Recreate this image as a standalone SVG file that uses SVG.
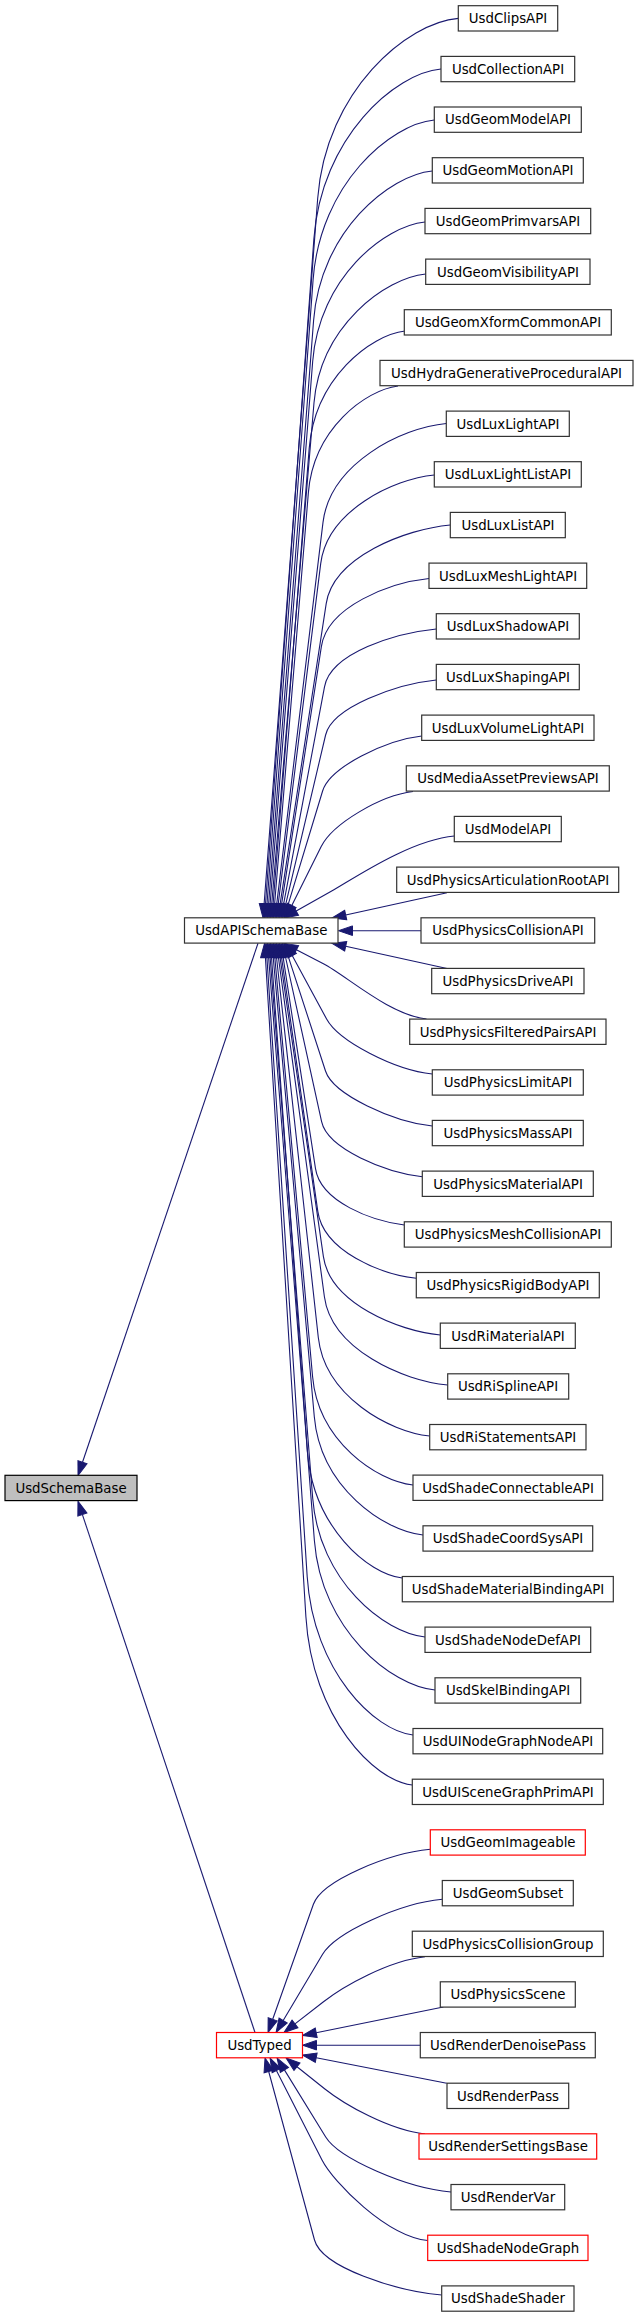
<svg xmlns="http://www.w3.org/2000/svg" width="637" height="2317" viewBox="0 0 637 2317">
<style>
.n rect{fill:#fff;stroke:#333;stroke-width:1.2}
.n.r rect{stroke:#f00}
.n.g rect{fill:#bfbfbf;stroke:#000}
text{font-family:"DejaVu Sans","Noto Sans",sans-serif;font-size:13.33px;text-anchor:middle;fill:#000}
.e path{fill:none;stroke:#191970;stroke-width:1.1;marker-end:url(#ah)}
</style>
<defs>
<marker id="ah" markerUnits="userSpaceOnUse" markerWidth="16" markerHeight="12" refX="0" refY="0" orient="auto" overflow="visible">
<path d="M0,-4.8 L14,0 L0,4.8 Z" fill="#191970" stroke="#191970" stroke-width="1"/>
</marker>
</defs>
<rect x="0" y="0" width="637" height="2317" fill="#fff"/>
<g id="edges" class="e">
<path d="M458.3,18.4 C407.5,22.4 325.9,90.6 317.7,198.3 L264.1,904"/>
<path d="M441,69 C395.1,73 321.3,137.2 313.9,238.8 L265.5,904"/>
<path d="M434.3,120 C390.5,124 320.2,184.1 313.1,279.6 L267,904"/>
<path d="M432.3,171 C389.5,175 320.5,231.1 313.6,320.4 L268.6,904"/>
<path d="M425,222 C384.4,226 319.2,278 312.7,361.2 L270.1,904"/>
<path d="M425.7,274 C385.3,278 320.5,325.8 314,402.8 L271.7,904"/>
<path d="M405,331 C370.4,335 314.8,378.2 309.2,448.4 L273.1,904"/>
<path d="M398,386 C365.6,390 313.6,428.8 308.4,492.4 L274.6,904"/>
<path d="M446.3,423.5 C401.8,427.5 330.1,463.5 323,522.4 L276.7,904.1"/>
<path d="M434.3,475 C393.3,479 327.3,510.8 320.7,563.6 L278.2,904.1"/>
<path d="M450.3,525 C405.5,529 333.4,556.9 326.2,603.6 L280.1,904.2"/>
<path d="M429,578.5 C390.1,582.5 327.6,606.2 321.4,646.4 L281.6,904.2"/>
<path d="M436.3,629 C395.9,633 330.9,652.7 324.5,686.8 L283.6,904.2"/>
<path d="M436.3,680 C396.3,684 332.2,707.2 325.6,735 L285.7,904.4"/>
<path d="M421.7,736 C385.9,740 329.9,767.1 322.6,791 L288.1,904.6"/>
<path d="M413,791.5 C379.8,795.5 332.4,824.1 321.2,846.5 L291.8,905.5"/>
<path d="M454.3,836 C410,840 353.5,878.7 331.7,891 L296.2,911.1"/>
<path d="M447,892.7 L345.7,915"/>
<path d="M421,930.7 L352.5,930.7"/>
<path d="M447,968.5 L345.7,946.3"/>
<path d="M426.5,1019 C389.5,1015 346.1,975.5 323.9,964 L296.4,949.8"/>
<path d="M432.3,1074 C394.1,1070 338.5,1041 326.6,1019 L292.2,955.6"/>
<path d="M432.3,1126 C393.7,1122 333.2,1094.8 325.5,1071 L288.3,956.6"/>
<path d="M422.3,1176.7 C386,1172.7 327.6,1149.1 321.6,1121.7 L285.5,957"/>
<path d="M404.3,1225 C372.2,1221 320.6,1202.1 315.5,1168.7 L283.1,957.1"/>
<path d="M416.3,1278.3 C380.7,1274.3 323.5,1251.1 317.8,1211.3 L281.5,957.2"/>
<path d="M440.3,1335 C398.1,1331 330.1,1303.2 323.4,1256.7 L280,957.2"/>
<path d="M447.7,1385 C403.2,1381 331.5,1349.2 324.4,1296.7 L278.4,957.2"/>
<path d="M429.7,1436 C389.5,1432 324.8,1396.2 318.3,1337.5 L276.5,957.2"/>
<path d="M413,1485 C376.7,1481 318.4,1441.4 312.6,1376.7 L274.8,957.2"/>
<path d="M423,1535 C383.7,1531 320.6,1487.4 314.3,1416.7 L273.2,957.2"/>
<path d="M402.3,1578 C368,1574 312.9,1527.1 307.4,1451.1 L271.5,957.3"/>
<path d="M425,1637 C384.4,1633 319.2,1581.2 312.7,1498.3 L270.1,957.3"/>
<path d="M435,1690 C391.4,1686 321.4,1630 314.4,1540.7 L268.6,957.3"/>
<path d="M413,1735 C374.8,1731 313.4,1671.5 307.2,1576.7 L266.9,957.3"/>
<path d="M412.3,1785 C373.9,1781 312.1,1717.5 305.9,1616.7 L265.4,957.3"/>
<path d="M258,943.3 L82.5,1462.2"/>
<path d="M255,2032.5 L82.4,1514.6"/>
<path d="M430.3,1849.3 C388.1,1853.3 321.7,1880.7 313.4,1904.3 L272.7,2019.3"/>
<path d="M442.3,1899.3 C399.1,1903.3 335.4,1932.8 322.6,1954.3 L283.2,2020.5"/>
<path d="M425,1956.7 C388.3,1960.7 343.2,1986.3 323.5,2001.7 L295,2023.9"/>
<path d="M443.3,2007 L316.2,2032.7"/>
<path d="M420.3,2045.2 L316.5,2045.2"/>
<path d="M446.7,2083.3 L316.2,2057.7"/>
<path d="M425,2134 C388.9,2130 344.5,2104.6 324.9,2089 L297,2066.7"/>
<path d="M451,2192 C405.8,2188 338.8,2158.3 325.7,2137 L284.4,2069.9"/>
<path d="M427.7,2240.5 C386.7,2236.5 333.4,2182.3 322,2160 L276.4,2070.5"/>
<path d="M441.7,2295 C395.8,2291 321.9,2267.4 314.5,2240 L268.7,2071.5"/>
</g>
<g id="node-UsdSchemaBase" class="n g"><rect x="5" y="1475.3" width="132" height="25.3"/><text x="71" y="1492.7">UsdSchemaBase</text></g>
<g id="node-UsdAPISchemaBase" class="n"><rect x="184.5" y="917.8" width="153.5" height="25.3"/><text x="261.3" y="935.2">UsdAPISchemaBase</text></g>
<g id="node-UsdTyped" class="n r"><rect x="216.5" y="2032.5" width="86" height="25.3"/><text x="259.5" y="2049.9">UsdTyped</text></g>
<g id="node-UsdClipsAPI" class="n"><rect x="458.3" y="5.7" width="99.4" height="25.3"/><text x="508" y="23.1">UsdClipsAPI</text></g>
<g id="node-UsdCollectionAPI" class="n"><rect x="441" y="56.4" width="133.7" height="25.3"/><text x="508" y="73.8">UsdCollectionAPI</text></g>
<g id="node-UsdGeomModelAPI" class="n"><rect x="434.3" y="107" width="147" height="25.3"/><text x="508" y="124.4">UsdGeomModelAPI</text></g>
<g id="node-UsdGeomMotionAPI" class="n"><rect x="432.3" y="157.7" width="151" height="25.3"/><text x="508" y="175.1">UsdGeomMotionAPI</text></g>
<g id="node-UsdGeomPrimvarsAPI" class="n"><rect x="425" y="208.4" width="165.7" height="25.3"/><text x="508" y="225.8">UsdGeomPrimvarsAPI</text></g>
<g id="node-UsdGeomVisibilityAPI" class="n"><rect x="425.7" y="259.1" width="164.3" height="25.3"/><text x="508" y="276.5">UsdGeomVisibilityAPI</text></g>
<g id="node-UsdGeomXformCommonAPI" class="n"><rect x="404.3" y="309.7" width="207" height="25.3"/><text x="508" y="327.1">UsdGeomXformCommonAPI</text></g>
<g id="node-UsdHydraGenerativeProceduralAPI" class="n"><rect x="380" y="360.4" width="253" height="25.3"/><text x="506.5" y="377.8">UsdHydraGenerativeProceduralAPI</text></g>
<g id="node-UsdLuxLightAPI" class="n"><rect x="446.3" y="411.1" width="123" height="25.3"/><text x="508" y="428.5">UsdLuxLightAPI</text></g>
<g id="node-UsdLuxLightListAPI" class="n"><rect x="434.3" y="461.7" width="147" height="25.3"/><text x="508" y="479.1">UsdLuxLightListAPI</text></g>
<g id="node-UsdLuxListAPI" class="n"><rect x="450.3" y="512.4" width="115" height="25.3"/><text x="508" y="529.8">UsdLuxListAPI</text></g>
<g id="node-UsdLuxMeshLightAPI" class="n"><rect x="429" y="563.1" width="157.7" height="25.3"/><text x="508" y="580.5">UsdLuxMeshLightAPI</text></g>
<g id="node-UsdLuxShadowAPI" class="n"><rect x="436.3" y="613.7" width="143" height="25.3"/><text x="508" y="631.1">UsdLuxShadowAPI</text></g>
<g id="node-UsdLuxShapingAPI" class="n"><rect x="436.3" y="664.4" width="143" height="25.3"/><text x="508" y="681.8">UsdLuxShapingAPI</text></g>
<g id="node-UsdLuxVolumeLightAPI" class="n"><rect x="421.7" y="715.1" width="172.3" height="25.3"/><text x="508" y="732.5">UsdLuxVolumeLightAPI</text></g>
<g id="node-UsdMediaAssetPreviewsAPI" class="n"><rect x="406.3" y="765.8" width="203" height="25.3"/><text x="508" y="783.2">UsdMediaAssetPreviewsAPI</text></g>
<g id="node-UsdModelAPI" class="n"><rect x="454.3" y="816.4" width="107" height="25.3"/><text x="508" y="833.8">UsdModelAPI</text></g>
<g id="node-UsdPhysicsArticulationRootAPI" class="n"><rect x="396.7" y="867.1" width="222" height="25.3"/><text x="508" y="884.5">UsdPhysicsArticulationRootAPI</text></g>
<g id="node-UsdPhysicsCollisionAPI" class="n"><rect x="421" y="917.8" width="173.7" height="25.3"/><text x="508" y="935.2">UsdPhysicsCollisionAPI</text></g>
<g id="node-UsdPhysicsDriveAPI" class="n"><rect x="431.7" y="968.4" width="152.3" height="25.3"/><text x="508" y="985.8">UsdPhysicsDriveAPI</text></g>
<g id="node-UsdPhysicsFilteredPairsAPI" class="n"><rect x="409.7" y="1019.1" width="196.3" height="25.3"/><text x="508" y="1036.5">UsdPhysicsFilteredPairsAPI</text></g>
<g id="node-UsdPhysicsLimitAPI" class="n"><rect x="432.3" y="1069.8" width="151" height="25.3"/><text x="508" y="1087.2">UsdPhysicsLimitAPI</text></g>
<g id="node-UsdPhysicsMassAPI" class="n"><rect x="432.3" y="1120.4" width="151" height="25.3"/><text x="508" y="1137.8">UsdPhysicsMassAPI</text></g>
<g id="node-UsdPhysicsMaterialAPI" class="n"><rect x="422.3" y="1171.1" width="171" height="25.3"/><text x="508" y="1188.5">UsdPhysicsMaterialAPI</text></g>
<g id="node-UsdPhysicsMeshCollisionAPI" class="n"><rect x="404.3" y="1221.8" width="207" height="25.3"/><text x="508" y="1239.2">UsdPhysicsMeshCollisionAPI</text></g>
<g id="node-UsdPhysicsRigidBodyAPI" class="n"><rect x="416.3" y="1272.5" width="183" height="25.3"/><text x="508" y="1289.9">UsdPhysicsRigidBodyAPI</text></g>
<g id="node-UsdRiMaterialAPI" class="n"><rect x="440.3" y="1323.1" width="135" height="25.3"/><text x="508" y="1340.5">UsdRiMaterialAPI</text></g>
<g id="node-UsdRiSplineAPI" class="n"><rect x="447.7" y="1373.8" width="121" height="25.3"/><text x="508" y="1391.2">UsdRiSplineAPI</text></g>
<g id="node-UsdRiStatementsAPI" class="n"><rect x="429.7" y="1424.5" width="156.3" height="25.3"/><text x="508" y="1441.9">UsdRiStatementsAPI</text></g>
<g id="node-UsdShadeConnectableAPI" class="n"><rect x="413" y="1475.1" width="189.7" height="25.3"/><text x="508" y="1492.5">UsdShadeConnectableAPI</text></g>
<g id="node-UsdShadeCoordSysAPI" class="n"><rect x="423" y="1525.8" width="169.7" height="25.3"/><text x="508" y="1543.2">UsdShadeCoordSysAPI</text></g>
<g id="node-UsdShadeMaterialBindingAPI" class="n"><rect x="402.3" y="1576.5" width="211" height="25.3"/><text x="508" y="1593.9">UsdShadeMaterialBindingAPI</text></g>
<g id="node-UsdShadeNodeDefAPI" class="n"><rect x="425" y="1627.1" width="165.7" height="25.3"/><text x="508" y="1644.5">UsdShadeNodeDefAPI</text></g>
<g id="node-UsdSkelBindingAPI" class="n"><rect x="435" y="1677.8" width="145.7" height="25.3"/><text x="508" y="1695.2">UsdSkelBindingAPI</text></g>
<g id="node-UsdUINodeGraphNodeAPI" class="n"><rect x="413" y="1728.5" width="189.7" height="25.3"/><text x="508" y="1745.9">UsdUINodeGraphNodeAPI</text></g>
<g id="node-UsdUISceneGraphPrimAPI" class="n"><rect x="412.3" y="1779.2" width="191" height="25.3"/><text x="508" y="1796.6">UsdUISceneGraphPrimAPI</text></g>
<g id="node-UsdGeomImageable" class="n r"><rect x="430.3" y="1829.8" width="155" height="25.3"/><text x="508" y="1847.2">UsdGeomImageable</text></g>
<g id="node-UsdGeomSubset" class="n"><rect x="442.3" y="1880.5" width="131" height="25.3"/><text x="508" y="1897.9">UsdGeomSubset</text></g>
<g id="node-UsdPhysicsCollisionGroup" class="n"><rect x="412.3" y="1931.2" width="191" height="25.3"/><text x="508" y="1948.6">UsdPhysicsCollisionGroup</text></g>
<g id="node-UsdPhysicsScene" class="n"><rect x="440.3" y="1981.8" width="135" height="25.3"/><text x="508" y="1999.2">UsdPhysicsScene</text></g>
<g id="node-UsdRenderDenoisePass" class="n"><rect x="420.3" y="2032.5" width="175" height="25.3"/><text x="508" y="2049.9">UsdRenderDenoisePass</text></g>
<g id="node-UsdRenderPass" class="n"><rect x="447" y="2083.2" width="121.7" height="25.3"/><text x="508" y="2100.6">UsdRenderPass</text></g>
<g id="node-UsdRenderSettingsBase" class="n r"><rect x="419" y="2133.8" width="177.7" height="25.3"/><text x="508" y="2151.2">UsdRenderSettingsBase</text></g>
<g id="node-UsdRenderVar" class="n"><rect x="451" y="2184.5" width="113.7" height="25.3"/><text x="508" y="2201.9">UsdRenderVar</text></g>
<g id="node-UsdShadeNodeGraph" class="n r"><rect x="427.7" y="2235.2" width="160.3" height="25.3"/><text x="508" y="2252.6">UsdShadeNodeGraph</text></g>
<g id="node-UsdShadeShader" class="n"><rect x="441.7" y="2285.9" width="132.3" height="25.3"/><text x="508" y="2303.3">UsdShadeShader</text></g>
</svg>
